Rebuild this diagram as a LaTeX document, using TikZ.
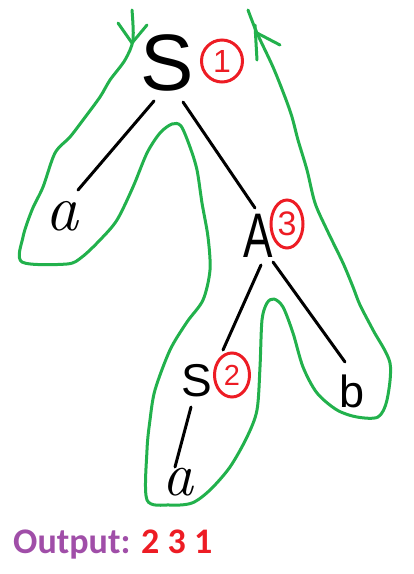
\documentclass[tikz,border=0pt]{standalone}
\usepackage{fontspec}
\setmainfont{Liberation Sans}
\newfontfamily\outfont{Carlito}
\newfontfamily\handfont{Latin Modern Roman}
\usetikzlibrary{calc,shapes.geometric}

\definecolor{paintgreen}{RGB}{34,177,76}
\definecolor{paintred}{RGB}{237,28,36}
\definecolor{paintpurple}{RGB}{160,78,168}

\tikzset{
  sym/.style={inner sep=0pt, anchor=center},
  edge/.style={line width=3pt, line cap=round, black},
  tour/.style={line width=3pt, line cap=round, line join=round, color=paintgreen},
  order/.style={draw=paintred, text=paintred, ellipse, line width=3pt, inner sep=0pt},
}

\begin{document}
\begin{tikzpicture}[x=1pt,y=1pt,yscale=-1,xscale=1]
\useasboundingbox (0,0) rectangle (414,574);

% Text Node
\node [sym] (S1) at (167,63) {\fontsize{80}{80}\selectfont S};
% Text Node
\node [sym] (a1) at (62,216) {\handfont\itshape\fontsize{66}{66}\selectfont a};
% Text Node
\node [sym, xscale=0.7] (A) at (258,236) {\fontsize{63}{63}\selectfont A};
% Text Node
\node [sym] (S2) at (197,381) {\fontsize{46}{46}\selectfont S};
% Text Node
\node [sym] (a2) at (178,482) {\handfont\itshape\fontsize{62}{62}\selectfont a};
% Text Node
\node [sym] (b) at (352,391) {\fontsize{45}{45}\selectfont b};

% Order marks
\node [order, minimum width=41pt, minimum height=42pt] (n1) at (222,61) {\fontsize{32}{32}\selectfont 1};
\node [order, minimum width=32pt, minimum height=48pt] (n3) at (287,224) {\fontsize{34}{34}\selectfont 3};
\node [order, minimum width=35pt, minimum height=44pt] (n2) at (232,375) {\fontsize{29}{29}\selectfont 2};

%Straight Lines
\draw [edge] ($(S1)+(-13,38)$) -- ($(a1)+(16,-26)$);
\draw [edge] ($(S1)+(16,39)$) -- ($(A)+(-3,-28)$);
\draw [edge] ($(A)+(3,29)$) -- ($(S2)+(26,-31)$);
\draw [edge] ($(A)+(15,26)$) -- ($(b)+(-7,-29)$);
\draw [edge] ($(S2)+(-6,26)$) -- ($(a2)+(-3,-15)$);

%Curve Lines
\draw [tour] plot [smooth, tension=0.5] coordinates {
  (132,10) (133,40) (125,60) (110,80) (100,97) (83,120) (70,137) (55,153)
  (43,187) (32,210) (23,237) (22,262) (67,264) (82,257) (100,240) (117,220)
  (133,187) (147,153) (160,133) (172,124) (181,126) (190,147) (197,170)
  (202,203) (208,237) (210,270) (203,300) (187,322) (170,350) (155,390)
  (150,420) (147,450) (147,500) (170,505) (192,503) (210,490) (230,467)
  (247,437) (257,410) (260,367) (262,320) (267,303) (274,299) (283,307)
  (293,333) (303,367) (317,393) (337,410) (357,417) (378,417) (387,400)
  (390,363) (373,330) (360,305) (353,287) (343,263) (327,230) (315,203)
  (307,170) (298,140) (292,117) (285,97) (273,67) (257,33) (248,10)};
%Arrow heads
\draw [tour] (118,23) -- (132,43) -- (147,25);
\draw [tour] (257,60) -- (255,25);
\draw [tour] (257,33) -- (280,45);

% Text Node
\node [anchor=base west, inner sep=0pt] (out) at (13,553) {\outfont\bfseries\fontsize{36}{36}\selectfont \textcolor{paintpurple}{Output:} \textcolor{paintred}{2 3 1}};

\end{tikzpicture}
\end{document}
